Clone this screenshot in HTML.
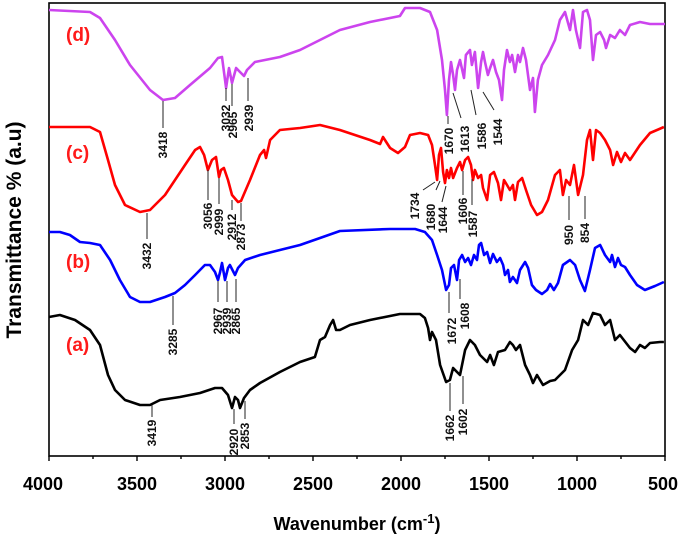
<!DOCTYPE html>
<html><head><meta charset="utf-8"><style>
html,body{margin:0;padding:0;background:#fff;}
svg{display:block;font-family:"Liberation Sans",Arial,sans-serif;}
</style></head><body>
<svg id="chart" width="685" height="541" viewBox="0 0 685 541" xmlns="http://www.w3.org/2000/svg">
<rect x="49" y="3" width="616" height="453" fill="none" stroke="#000" stroke-width="1.6"/>
<g id="ticks"></g>
<g id="series"></g>
<g id="ann" font-size="12" font-weight="bold" fill="#111"></g>
<text x="66" y="41" fill="#ff1a1a" font-size="19" font-weight="bold">(d)</text>
<text x="66" y="159" fill="#ff1a1a" font-size="19" font-weight="bold">(c)</text>
<text x="66" y="268" fill="#ff1a1a" font-size="19" font-weight="bold">(b)</text>
<text x="66" y="351" fill="#ff1a1a" font-size="19" font-weight="bold">(a)</text>
<text transform="translate(21,230) rotate(-90)" text-anchor="middle" font-size="21" font-weight="bold">Transmittance % (a.u)</text>
<text x="357" y="530" text-anchor="middle" font-size="18" font-weight="bold">Wavenumber (cm<tspan dy="-7" font-size="13">-1</tspan><tspan dy="7">)</tspan></text>
</svg>
<script>
const xTicks=[4000,3500,3000,2500,2000,1500,1000,500];
const seriesD=[[4000,446],[3767,444],[3710,438],[3625,416],[3540,391],[3426,366],[3352,356],[3284,358],[3199,371],[3085,388],[3040,398],[3017,399],[2994,368],[2977,388],[2960,373],[2937,388],[2915,384],[2892,380],[2875,386],[2830,394],[2688,399],[2574,406],[2347,426],[2176,434],[2006,440],[1977,448],[1892,448],[1835,444],[1795,426],[1767,396],[1750,366],[1739,341],[1727,376],[1716,394],[1704,381],[1693,366],[1682,386],[1665,396],[1642,378],[1631,401],[1608,406],[1597,391],[1580,404],[1562,368],[1545,394],[1534,404],[1523,394],[1506,381],[1494,388],[1477,396],[1460,384],[1443,376],[1426,356],[1415,386],[1398,406],[1381,394],[1369,401],[1352,384],[1335,401],[1324,394],[1307,408],[1290,396],[1267,366],[1250,378],[1239,344],[1222,376],[1199,391],[1165,401],[1125,416],[1097,436],[1068,444],[1040,426],[1023,446],[1006,426],[983,408],[966,444],[943,446],[926,436],[909,396],[892,421],[869,424],[846,416],[835,408],[812,421],[784,418],[756,426],[727,421],[699,431],[642,434],[585,432],[500,432]];
const seriesC=[[4000,329],[3767,329],[3710,324],[3665,296],[3625,271],[3568,251],[3483,244],[3426,246],[3341,261],[3227,291],[3170,306],[3142,309],[3119,301],[3097,286],[3074,296],[3051,299],[3034,279],[3023,286],[3006,288],[2983,276],[2960,261],[2926,254],[2909,255],[2858,276],[2801,301],[2778,306],[2767,298],[2744,316],[2688,326],[2574,328],[2460,331],[2347,326],[2176,316],[2119,312],[2102,319],[2062,308],[2017,303],[1977,309],[1949,321],[1892,323],[1846,321],[1824,311],[1807,291],[1795,276],[1784,301],[1773,308],[1761,284],[1750,273],[1739,286],[1727,278],[1716,288],[1704,278],[1682,288],[1665,294],[1653,286],[1636,296],[1619,299],[1602,291],[1591,276],[1580,286],[1562,278],[1545,281],[1534,268],[1511,256],[1494,281],[1472,284],[1449,273],[1432,256],[1415,276],[1398,271],[1381,266],[1364,271],[1352,256],[1335,274],[1312,278],[1290,266],[1261,251],[1227,241],[1199,244],[1165,256],[1125,281],[1097,286],[1080,261],[1062,276],[1040,271],[1017,291],[994,261],[966,281],[943,316],[926,326],[909,296],[892,326],[869,323],[841,316],[812,306],[795,291],[773,304],[750,294],[727,303],[699,296],[642,311],[585,323],[506,329]];
const seriesB=[[4000,224],[3938,224],[3881,221],[3824,214],[3767,213],[3710,211],[3653,196],[3597,176],[3540,159],[3483,154],[3426,154],[3341,159],[3284,163],[3227,171],[3170,181],[3114,191],[3085,191],[3057,184],[3040,176],[3028,184],[3017,193],[3000,176],[2983,188],[2972,191],[2943,181],[2926,188],[2886,196],[2801,201],[2688,206],[2574,211],[2460,218],[2347,225],[2062,227],[1920,227],[1864,224],[1824,216],[1795,201],[1767,186],[1744,166],[1727,171],[1716,188],[1699,191],[1682,176],[1670,196],[1653,201],[1636,194],[1619,198],[1602,191],[1585,201],[1568,196],[1557,211],[1545,213],[1528,201],[1511,204],[1494,193],[1477,202],[1455,194],[1437,198],[1420,191],[1409,181],[1392,186],[1381,174],[1364,179],[1341,173],[1324,186],[1295,194],[1278,188],[1256,171],[1233,166],[1199,162],[1170,166],[1153,172],[1131,166],[1108,173],[1080,191],[1040,196],[1011,191],[983,176],[955,165],[926,186],[898,208],[869,211],[841,201],[812,194],[801,201],[784,189],[767,198],[750,191],[727,189],[699,181],[659,171],[614,166],[557,170],[506,174]];
const seriesA=[[4000,139],[3938,141],[3852,136],[3767,126],[3710,111],[3665,81],[3625,66],[3568,56],[3483,51],[3426,51],[3369,56],[3256,59],[3142,63],[3057,68],[3017,68],[2983,61],[2960,48],[2943,59],[2926,56],[2915,48],[2892,58],[2858,66],[2801,73],[2688,84],[2574,94],[2489,99],[2460,116],[2432,119],[2403,131],[2386,136],[2369,126],[2347,126],[2290,131],[2176,136],[2006,142],[1892,142],[1864,138],[1846,128],[1835,116],[1824,124],[1801,116],[1778,91],[1744,74],[1722,76],[1704,88],[1682,84],[1665,81],[1636,106],[1608,116],[1580,111],[1551,101],[1511,94],[1494,101],[1472,91],[1449,104],[1409,106],[1381,114],[1364,111],[1347,106],[1324,111],[1295,91],[1267,81],[1250,73],[1227,81],[1193,71],[1153,75],[1125,76],[1068,86],[1028,106],[994,116],[966,136],[937,131],[909,143],[869,141],[841,131],[812,136],[784,116],[756,121],[699,108],[670,104],[642,111],[614,108],[585,113],[528,114],[506,114]];
const annLabels=["3418","3032","2965","2939","1670","1613","1586","1544","3432","3056","2999","2912","2873","1734","1680","1644","1606","1587","950","854","3285","2967","2939","2865","1672","1608","3419","2920","2853","1662","1602"];

const NS="http://www.w3.org/2000/svg";
function x(w){return 49+(4000-w)*616/3500;}
function y(v){return 456-v;}
const tg=document.getElementById('ticks');
for(let w=4000;w>=500;w-=250){
  const major=(w%500===0);
  const l=document.createElementNS(NS,'line');
  
  
  l.setAttribute('x1',x(w));l.setAttribute('x2',x(w));l.setAttribute('y1',456);l.setAttribute('y2',major?461:459);
  l.setAttribute('stroke','#000');l.setAttribute('stroke-width','1.4');tg.appendChild(l);
}
xTicks.forEach(w=>{
  const t=document.createElementNS(NS,'text');
  
  
  t.setAttribute('x',x(w)-(w===4000?6:(w===500?2:0)));t.setAttribute('y',490);t.setAttribute('text-anchor','middle');
  t.setAttribute('font-size','18');t.setAttribute('font-weight','bold');t.textContent=w;tg.appendChild(t);
});
const sg=document.getElementById('series');
[[seriesA,'#000000','spectrum-a'],[seriesB,'#0000ff','spectrum-b'],[seriesC,'#ff0000','spectrum-c'],[seriesD,'#cc44ee','spectrum-d']].forEach(s=>{
  const p=document.createElementNS(NS,'path');
  
  
  p.setAttribute('d',s[0].map((d,i)=>(i?'L':'M')+x(d[0]).toFixed(1)+','+y(d[1]).toFixed(1)).join(''));
  p.setAttribute('fill','none');p.setAttribute('stroke',s[1]);p.setAttribute('stroke-width','2.6');p.setAttribute('stroke-linejoin','round');
  sg.appendChild(p);
});
const annGeo=[[163,101,163,128,163,145],[226,88,226,101,226,118],[232,84,232,106,233,125],[248,78,248,101,249,118],[448,116,448,124,449,141],[453,93,461,118,465,139],[471,90,476,115,482,136],[483,92,494,110,498,132],[147,213,147,239,147,256],[208,170,208,200,208,216],[219,178,219,204,219,222],[232,200,232,210,232,227],[241,203,241,221,241,237],[423,190,435,182,415,206],[436,190,440,181,431,217],[446,186,442,202,443,220],[463,171,463,195,463,211],[472,179,472,205,473,224],[569,196,569,220,569,235],[585,196,585,219,585,233],[173,296,173,325,173,342],[218,281,218,302,218,321],[227,281,227,302,227,321],[236,279,236,302,236,321],[449,292,449,313,452,331],[460,279,460,299,465,316],[152,405,152,417,152,433],[234,409,234,424,234,442],[245,401,245,419,245,436],[450,383,450,411,450,428],[463,376,463,404,463,422]];
const ag=document.getElementById('ann');
annLabels.forEach((lab,i)=>{
  const g=annGeo[i];
  const l=document.createElementNS(NS,'line');
  
  
  l.setAttribute('x1',g[0]);l.setAttribute('y1',g[1]);l.setAttribute('x2',g[2]);l.setAttribute('y2',g[3]);
  l.setAttribute('stroke','#222');l.setAttribute('stroke-width','1');ag.appendChild(l);
  const t=document.createElementNS(NS,'text');
  
  
  t.setAttribute('transform','translate('+g[4]+','+g[5]+') rotate(-90)');
  t.setAttribute('text-anchor','middle');t.setAttribute('dominant-baseline','central');
  t.textContent=lab;ag.appendChild(t);
});
</script>
</body></html>
